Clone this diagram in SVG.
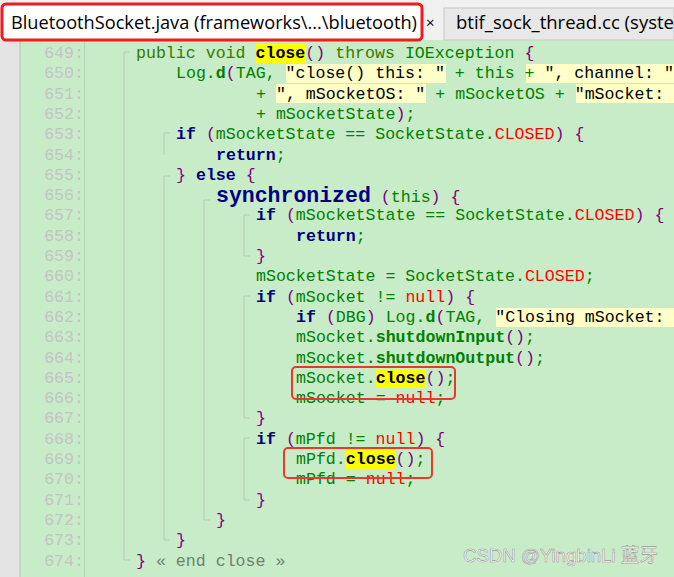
<svg xmlns="http://www.w3.org/2000/svg" width="674" height="577" viewBox="0 0 674 577">
<style>
.c{font-family:"Liberation Mono","DejaVu Sans Mono",monospace;font-size:16.6px;fill:#008000;white-space:pre}
.n{font-family:"Liberation Mono",monospace;font-size:16.6px;fill:#c4c4c4;text-anchor:end}
.k{fill:#000080;font-weight:bold}.p{fill:#800080}.r{fill:#ff0000}.s{fill:#000}.b{font-weight:bold}.o{fill:#3c7800}.h{fill:#000;font-weight:bold}
.sb{fill:#ffffc8}.hl{fill:#ffff00}.box{fill:none;stroke:#e8392c;stroke-width:2}.g{fill:none;stroke:#b8c8b8;stroke-width:1}
.tab{font-family:"Open Sans","Liberation Sans",sans-serif;font-size:17.5px;fill:#000}
</style>
<rect width="674" height="577" fill="#c8ecc8"/>
<rect x="0" y="40" width="20" height="537" fill="#e4e4e4"/>
<line x1="20" y1="40" x2="20" y2="577" stroke="#bcbcbc"/>
<line x1="84.5" y1="40" x2="84.5" y2="577" stroke="#b0d8b0"/>
<g id="tabs">
<rect x="0" y="0" width="674" height="40" fill="#f0f0f0"/>
<rect x="444" y="8" width="230" height="32" fill="#e8e8e8" stroke="#c8c8c8"/>
<rect x="2" y="4" width="420" height="36" rx="4" fill="#fff" stroke="#ee1c1c" stroke-width="3"/>
<text class="tab" x="11" y="29" textLength="406" lengthAdjust="spacingAndGlyphs">BluetoothSocket.java (frameworks\...\bluetooth)</text>
<text class="tab" x="426" y="28" fill="#888" style="font-size:15px">×</text>
<text class="tab" x="456" y="29" textLength="218" lengthAdjust="spacingAndGlyphs">btif_sock_thread.cc (syste</text>
</g>
<g id="highlights">
<rect class="hl" x="256" y="44" width="50" height="19"/>
<rect class="sb" x="286" y="64" width="160" height="19"/>
<rect class="sb" x="526" y="64" width="148" height="19"/>
<rect class="sb" x="276" y="84" width="150" height="19"/>
<rect class="sb" x="576" y="84" width="98" height="19"/>
<rect class="sb" x="496" y="308" width="178" height="19"/>
<rect class="hl" x="376" y="369" width="50" height="19"/>
<rect class="hl" x="346" y="450" width="50" height="19"/>
</g>
<g id="guides">
<path class="g" d="M130 52 H124 V560 H130"/>
<path class="g" d="M170 133 H164 V155"/>
<path class="g" d="M170 176 H164 V540 H170"/>
<path class="g" d="M210 200 H204 V520 H210"/>
<path class="g" d="M250 215 H244 V256 H250"/>
<path class="g" d="M250 296 H244 V418 H250"/>
<path class="g" d="M250 438 H244 V500 H250"/>
</g>
<g id="linenums">
<text class="n" x="84" y="58">649:</text><text class="n" x="84" y="78.3">650:</text><text class="n" x="84" y="98.6">651:</text><text class="n" x="84" y="118.9">652:</text><text class="n" x="84" y="139.2">653:</text><text class="n" x="84" y="159.5">654:</text><text class="n" x="84" y="179.8">655:</text><text class="n" x="84" y="200.1">656:</text><text class="n" x="84" y="220.4">657:</text><text class="n" x="84" y="240.7">658:</text><text class="n" x="84" y="261">659:</text><text class="n" x="84" y="281.3">660:</text><text class="n" x="84" y="301.6">661:</text><text class="n" x="84" y="321.9">662:</text><text class="n" x="84" y="342.2">663:</text><text class="n" x="84" y="362.5">664:</text><text class="n" x="84" y="382.8">665:</text><text class="n" x="84" y="403.1">666:</text><text class="n" x="84" y="423.4">667:</text><text class="n" x="84" y="443.7">668:</text><text class="n" x="84" y="464">669:</text><text class="n" x="84" y="484.3">670:</text><text class="n" x="84" y="504.6">671:</text><text class="n" x="84" y="524.9">672:</text><text class="n" x="84" y="545.2">673:</text><text class="n" x="84" y="565.5">674:</text>
</g>
<g id="code">
<text class="c" x="136" y="58"><tspan class="o">public void </tspan><tspan class="h">close</tspan><tspan class="p">()</tspan><tspan class="o"> throws </tspan>IOException <tspan class="p">{</tspan></text>
<text class="c" x="176" y="78.3">Log.<tspan class="b">d</tspan><tspan class="p">(</tspan>TAG, <tspan class="s">"close() this: "</tspan> + this + <tspan class="s">", channel: "</tspan></text>
<text class="c" x="256" y="98.6">+ <tspan class="s">", mSocketOS: "</tspan> + mSocketOS + <tspan class="s">"mSocket: </tspan></text>
<text class="c" x="256" y="118.9">+ mSocketState<tspan class="p">)</tspan>;</text>
<text class="c" x="176" y="139.2"><tspan class="k">if</tspan> <tspan class="p">(</tspan>mSocketState == SocketState.<tspan class="r">CLOSED</tspan><tspan class="p">)</tspan> <tspan class="p">{</tspan></text>
<text class="c" x="216" y="159.5"><tspan class="k">return</tspan>;</text>
<text class="c" x="176" y="179.8"><tspan class="p">}</tspan> <tspan class="k">else</tspan> <tspan class="p">{</tspan></text>
<text class="c" x="216" y="201.5"><tspan class="k" style="font-size:21.5px">synchronized</tspan> <tspan class="p">(</tspan>this<tspan class="p">)</tspan> <tspan class="p">{</tspan></text>
<text class="c" x="256" y="220.4"><tspan class="k">if</tspan> <tspan class="p">(</tspan>mSocketState == SocketState.<tspan class="r">CLOSED</tspan><tspan class="p">)</tspan> <tspan class="p">{</tspan></text>
<text class="c" x="296" y="240.7"><tspan class="k">return</tspan>;</text>
<text class="c" x="256" y="261"><tspan class="p">}</tspan></text>
<text class="c" x="256" y="281.3">mSocketState = SocketState.<tspan class="r">CLOSED</tspan>;</text>
<text class="c" x="256" y="301.6"><tspan class="k">if</tspan> <tspan class="p">(</tspan>mSocket != <tspan class="r">null</tspan><tspan class="p">)</tspan> <tspan class="p">{</tspan></text>
<text class="c" x="296" y="321.9"><tspan class="k">if</tspan> <tspan class="p">(</tspan>DBG<tspan class="p">)</tspan> Log.<tspan class="b">d</tspan><tspan class="p">(</tspan>TAG, <tspan class="s">"Closing mSocket: </tspan></text>
<text class="c" x="296" y="342.2">mSocket.<tspan class="b">shutdownInput</tspan><tspan class="p">()</tspan>;</text>
<text class="c" x="296" y="362.5">mSocket.<tspan class="b">shutdownOutput</tspan><tspan class="p">()</tspan>;</text>
<text class="c" x="296" y="382.8">mSocket.<tspan class="h">close</tspan><tspan class="p">()</tspan>;</text>
<text class="c" x="296" y="403.1">mSocket = <tspan class="r">null</tspan>;</text>
<text class="c" x="256" y="423.4"><tspan class="p">}</tspan></text>
<text class="c" x="256" y="443.7"><tspan class="k">if</tspan> <tspan class="p">(</tspan>mPfd != <tspan class="r">null</tspan><tspan class="p">)</tspan> <tspan class="p">{</tspan></text>
<text class="c" x="296" y="464">mPfd.<tspan class="h">close</tspan><tspan class="p">()</tspan>;</text>
<text class="c" x="296" y="484.3">mPfd = <tspan class="r">null</tspan>;</text>
<text class="c" x="256" y="504.6"><tspan class="p">}</tspan></text>
<text class="c" x="216" y="524.9"><tspan class="p">}</tspan></text>
<text class="c" x="176" y="545.2"><tspan class="p">}</tspan></text>
<text class="c" x="136" y="565.5"><tspan class="p">}</tspan> <tspan style="fill:#708070">« end close »</tspan></text>
</g>
<g id="boxes">
<rect class="box" x="292" y="367" width="163" height="32" rx="4"/>
<rect class="box" x="284" y="448" width="148" height="30" rx="4"/>
</g>
<text x="463" y="562" font-family="'Liberation Sans','Noto Sans CJK SC',sans-serif" font-size="19" fill="#fff" stroke="#9a9a9a" stroke-width="0.6" textLength="195" lengthAdjust="spacingAndGlyphs">CSDN @YingbinLi 蓝牙</text>
</svg>
